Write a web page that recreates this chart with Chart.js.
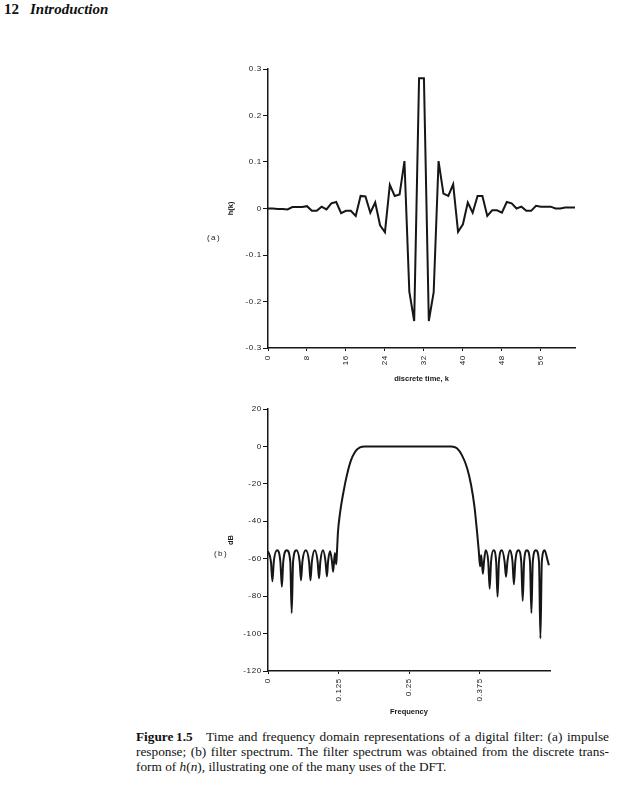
<!DOCTYPE html>
<html>
<head>
<meta charset="utf-8">
<script src="https://cdn.jsdelivr.net/npm/chart.js@4.4.1/dist/chart.umd.min.js"></script>
<style>
  html, body { margin: 0; padding: 0; background: #fff; }
  body { width: 638px; height: 795px; position: relative; overflow: hidden; font-family: "Liberation Serif", serif; color: #111; }
  canvas { position: absolute; }
  #top { left: 170px; top: 55px; }
  #bottom { left: 170px; top: 395px; }
  .hdr { position: absolute; left: 4px; top: 2px; font-size: 15px; font-weight: bold; line-height: 15px; }
  .hdr i { margin-left: 11px; }
  .panel { position: absolute; font-family: "Liberation Sans", sans-serif; font-size: 8px; letter-spacing: 1.4px; color: #222; filter: grayscale(1); }
  .cap { position: absolute; left: 136px; top: 729px; width: 473px; font-size: 13.3px; line-height: 15px; }
  .cap div { white-space: nowrap; text-align: justify; text-align-last: justify; }
  .cap div.last { text-align: left; text-align-last: left; }
</style>
</head>
<body>
<div class="hdr">12<i>Introduction</i></div>
<div class="panel" style="left:207px; top:233px;">(a)</div>
<div class="panel" style="left:214px; top:549px;">(b)</div>
<canvas id="top" width="420" height="335"></canvas>
<canvas id="bottom" width="400" height="330"></canvas>
<div class="cap">
  <div><b>Figure&#8201;1.5</b>&nbsp;&nbsp; Time and frequency domain representations of a digital filter: (a) impulse</div>
  <div>response; (b) filter spectrum. The filter spectrum was obtained from the discrete trans-</div>
  <div class="last">form of <i>h</i>(<i>n</i>), illustrating one of the many uses of the DFT.</div>
</div>
<script>
// (a) impulse response h(k), k = 0..63
const kTicks = [0, 8, 16, 24, 32, 40, 48, 56];
const hTicks = [-0.3, -0.2, -0.1, 0, 0.1, 0.2, 0.3];
const hTickLabels = ['-0.3', '-0.2', '-0.1', '0', '0.1', '0.2', '0.3'];
const impulse = [
  0.000, 0.000, -0.001, -0.001, -0.002, 0.003, 0.003, 0.003,
  0.005, -0.005, -0.005, 0.004, -0.002, 0.011, 0.014, -0.010,
  -0.005, -0.005, -0.016, 0.027, 0.026, -0.009, 0.013, -0.036,
  -0.051, 0.051, 0.027, 0.030, 0.102, -0.179, -0.242, 0.280,
  0.280, -0.242, -0.180, 0.102, 0.032, 0.027, 0.052, -0.050,
  -0.034, 0.013, -0.009, 0.027, 0.027, -0.016, -0.004, -0.004,
  -0.009, 0.014, 0.011, 0.000, 0.004, -0.005, -0.005, 0.006,
  0.004, 0.004, 0.004, 0.000, 0.000, 0.002, 0.002, 0.002
];

// (b) spectrum in dB
const freqTicks = [0, 0.125, 0.25, 0.375];
const freqTickLabels = ['0', '0.125', '0.25', '0.375'];
const dbTicks = [-120, -100, -80, -60, -40, -20, 0, 20];
const specFreq = [
  0.0000, 0.0052, 0.0078, 0.0103, 0.0161, 0.0219, 0.0246, 0.0271,
  0.0333, 0.0395, 0.0420, 0.0445, 0.0503, 0.0561, 0.0585, 0.0610,
  0.0670, 0.0728, 0.0753, 0.0778, 0.0830, 0.0880, 0.0905, 0.0928,
  0.0975, 0.1020, 0.1045, 0.1065, 0.1100, 0.1135, 0.1155, 0.1185,
  0.1210, 0.1225, 0.1240, 0.1275, 0.1334, 0.1394, 0.1465, 0.1542,
  0.1630, 0.1720, 0.2500, 0.3250, 0.3350, 0.3440, 0.3530, 0.3600,
  0.3660, 0.3706, 0.3735, 0.3760, 0.3780, 0.3810, 0.3830, 0.3860,
  0.3905, 0.3930, 0.3955, 0.4000, 0.4045, 0.4070, 0.4095, 0.4145,
  0.4195, 0.4220, 0.4245, 0.4290, 0.4335, 0.4360, 0.4385, 0.4440,
  0.4490, 0.4516, 0.4541, 0.4590, 0.4645, 0.4670, 0.4695, 0.4750,
  0.4805, 0.4830, 0.4855, 0.4905, 0.4950, 0.4980
];
const specDb = [
  -56, -61.5, -72, -61.5, -55.5, -61.5, -75, -61.5,
  -55.5, -61.5, -89, -61.5, -55.5, -61.5, -71.5, -61.5,
  -55.5, -61.5, -71.5, -61.5, -55.5, -61.5, -70.5, -61.5,
  -55.5, -61.5, -69.5, -61.5, -56, -61.5, -67, -57,
  -63, -55, -46, -36, -25, -16, -8, -3,
  -0.5, 0, 0, 0, -1, -4.8, -11.5, -20.5,
  -32, -45.5, -55, -64, -58, -68, -61.5, -55.5,
  -61.5, -76, -61.5, -55.5, -61.5, -80.3, -61.5, -55.5,
  -61.5, -69.6, -61.5, -55.5, -61.5, -73.7, -61.5, -55.5,
  -61.5, -82.5, -61.5, -55.5, -61.5, -89, -61.5, -55.5,
  -61.5, -102.6, -61.5, -55.5, -60, -63.5
];

const ink = '#161616';
const tickFont = { family: '"Liberation Sans", Arial, sans-serif', size: 8 };
const titleFont = { family: '"Liberation Sans", Arial, sans-serif', size: 7.5, weight: 'bold' };

// tick labels in the scan are a bit spread out; the labels layer is drawn after the datasets
const spacing = {
  id: 'spacing',
  beforeDraw(chart) { chart.ctx.letterSpacing = '0px'; },
  afterDatasetsDraw(chart) { chart.ctx.letterSpacing = '0.7px'; },
  afterDraw(chart) { chart.ctx.letterSpacing = '0px'; }
};

function xAxis(min, max, ticks, labels, height, title) {
  return {
    type: 'linear', min, max,
    afterBuildTicks: s => { s.ticks = ticks.map(v => ({ value: v })); },
    afterFit: s => { s.height = height; },
    grid: { drawOnChartArea: false, tickLength: 3, color: ink, lineWidth: 1 },
    border: { color: ink, width: 1.5 },
    ticks: { autoSkip: false, minRotation: 90, maxRotation: 90, padding: 4, color: ink, font: tickFont, z: 1,
             callback: (v, i) => labels[i] },
    title: { display: true, text: title, color: ink, font: titleFont, padding: 0 }
  };
}

function yAxis(min, max, ticks, labels, title) {
  return {
    min, max,
    afterBuildTicks: s => { s.ticks = ticks.map(v => ({ value: v })); },
    afterFit: s => { s.width = 98; },
    grid: { drawOnChartArea: false, tickLength: 5, color: ink, lineWidth: 1 },
    border: { color: ink, width: 1.5 },
    ticks: { padding: 1, color: ink, font: tickFont, z: 1, callback: (v, i) => labels[i] },
    title: { display: true, text: title, color: ink, font: titleFont, padding: { top: 56, bottom: 0 } }
  };
}

const common = {
  responsive: false, animation: false, devicePixelRatio: 1,
  plugins: { legend: { display: false }, tooltip: { enabled: false } }
};

new Chart(document.getElementById('top'), {
  type: 'line',
  data: { datasets: [{
    data: impulse.map((v, k) => ({ x: k, y: v })),
    borderColor: ink, borderWidth: 2, pointRadius: 0, tension: 0
  }] },
  options: Object.assign({}, common, {
    layout: { padding: { top: 14, right: 15, bottom: 7, left: 0 } },
    scales: {
      x: xAxis(0, 63, kTicks, kTicks.map(String), 35, 'discrete time, k'),
      y: yAxis(-0.3, 0.3, hTicks, hTickLabels, 'h(k)')
    }
  }),
  plugins: [spacing]
});

new Chart(document.getElementById('bottom'), {
  type: 'line',
  data: { datasets: [{
    data: specFreq.map((f, i) => ({ x: f, y: specDb[i] })),
    borderColor: ink, borderWidth: 2, pointRadius: 0, cubicInterpolationMode: 'monotone'
  }] },
  options: Object.assign({}, common, {
    layout: { padding: { top: 14, right: 20, bottom: 9, left: 0 } },
    scales: {
      x: xAxis(0, 0.5, freqTicks, freqTickLabels, 45, 'Frequency'),
      y: yAxis(-120, 20, dbTicks, dbTicks.map(String), 'dB')
    }
  }),
  plugins: [spacing]
});
</script>
</body>
</html>
